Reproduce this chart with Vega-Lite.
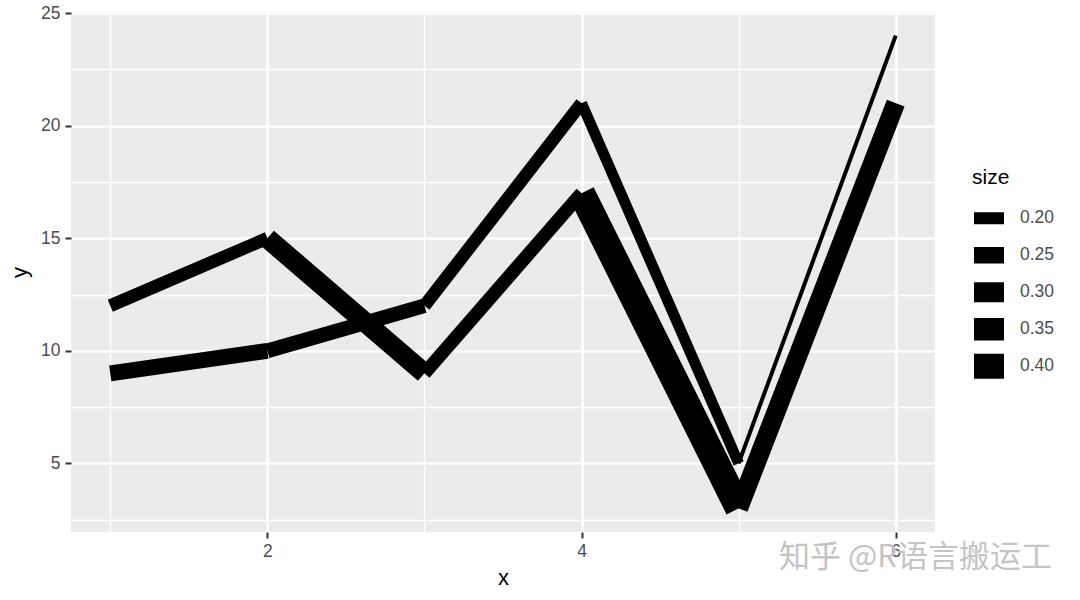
{
  "$schema": "https://vega.github.io/schema/vega-lite/v6.json",
  "width": 864,
  "height": 520,
  "autosize": {"type": "none"},
  "padding": {"left": 71, "top": 12, "right": 145, "bottom": 68},
  "background": "white",
  "title": {
    "text": "知乎 @R语言搬运工",
    "orient": "bottom",
    "anchor": "end",
    "frame": "group",
    "font": "Noto Sans CJK SC",
    "fontSize": 31,
    "fontWeight": "normal",
    "color": "#c4c4c4",
    "offset": -46,
    "dx": 117
  },
  "config": {
    "view": {"fill": "#EBEBEB", "stroke": null},
    "font": "Liberation Sans",
    "axis": {
      "domain": false,
      "gridColor": "white",
      "labelFont": "Liberation Sans",
      "labelFontSize": 17.5,
      "labelColor": "#4D4D4D",
      "tickSize": 6,
      "tickWidth": 2,
      "titleFont": "Liberation Sans",
      "titleFontSize": 22,
      "titleFontWeight": "normal",
      "titleColor": "black"
    }
  },
  "data": {
    "values": [
      {"grp": "A", "x": 1, "y": 12, "x2": 2, "y2": 15, "size": 0.209},
      {"grp": "A", "x": 2, "y": 15, "x2": 3, "y2": 9, "size": 0.301},
      {"grp": "A", "x": 3, "y": 9, "x2": 4, "y2": 17, "size": 0.215},
      {"grp": "A", "x": 4, "y": 17, "x2": 5, "y2": 3, "size": 0.445},
      {"grp": "A", "x": 5, "y": 3, "x2": 6, "y2": 21, "size": 0.285},
      {"grp": "B", "x": 1, "y": 9, "x2": 2, "y2": 10, "size": 0.242},
      {"grp": "B", "x": 2, "y": 10, "x2": 3, "y2": 12, "size": 0.23},
      {"grp": "B", "x": 3, "y": 12, "x2": 4, "y2": 21, "size": 0.209},
      {"grp": "B", "x": 4, "y": 21, "x2": 5, "y2": 5, "size": 0.192},
      {"grp": "B", "x": 5, "y": 5, "x2": 6, "y2": 24, "size": 0.166}
    ]
  },
  "mark": {"type": "rule", "color": "black", "strokeCap": "butt"},
  "encoding": {
    "x": {
      "field": "x",
      "type": "quantitative",
      "scale": {"domain": [0.75, 6.25], "nice": false, "zero": false},
      "axis": {
        "title": "x",
        "values": [1, 2, 3, 4, 5, 6],
        "labelExpr": "datum.value % 2 === 0 ? format(datum.value, 'd') : ''",
        "tickColor": {"condition": {"test": "datum.value % 2 === 0", "value": "#333333"}, "value": "transparent"},
        "gridWidth": {"condition": {"test": "datum.value % 2 === 0", "value": 2.6}, "value": 1.3},
        "labelPadding": 4,
        "titlePadding": 8
      }
    },
    "y": {
      "field": "y",
      "type": "quantitative",
      "scale": {"domain": [1.95, 25.05], "nice": false, "zero": false},
      "axis": {
        "title": "y",
        "values": [2.5, 5, 7.5, 10, 12.5, 15, 17.5, 20, 22.5, 25],
        "labelExpr": "datum.value % 5 === 0 ? format(datum.value, 'd') : ''",
        "tickColor": {"condition": {"test": "datum.value % 5 === 0", "value": "#333333"}, "value": "transparent"},
        "gridWidth": {"condition": {"test": "datum.value % 5 === 0", "value": 2.6}, "value": 1.3},
        "labelPadding": 5,
        "titlePadding": 9
      }
    },
    "x2": {"field": "x2"},
    "y2": {"field": "y2"},
    "strokeWidth": {
      "field": "size",
      "type": "quantitative",
      "scale": {
        "domain": [0.166, 0.18, 0.2, 0.25, 0.3, 0.35, 0.4, 0.445],
        "range": [4, 9.15, 12, 16.6, 19.9, 22.7, 25.1, 27]
      },
      "legend": {
        "title": "size",
        "orient": "none",
        "legendX": 901,
        "legendY": 155,
        "values": [0.2, 0.25, 0.3, 0.35, 0.4],
        "format": ".2f",
        "padding": 0,
        "titleFont": "Liberation Sans",
        "titleFontSize": 21,
        "titleFontWeight": "normal",
        "titleColor": "black",
        "titlePadding": 12,
        "labelFont": "Liberation Sans",
        "labelFontSize": 17.5,
        "labelColor": "#4D4D4D",
        "labelOffset": 3,
        "symbolType": "stroke",
        "symbolSize": 900,
        "symbolOffset": -11,
        "symbolStrokeColor": "black",
        "clipHeight": 36.5,
        "rowPadding": 0
      }
    }
  }
}
